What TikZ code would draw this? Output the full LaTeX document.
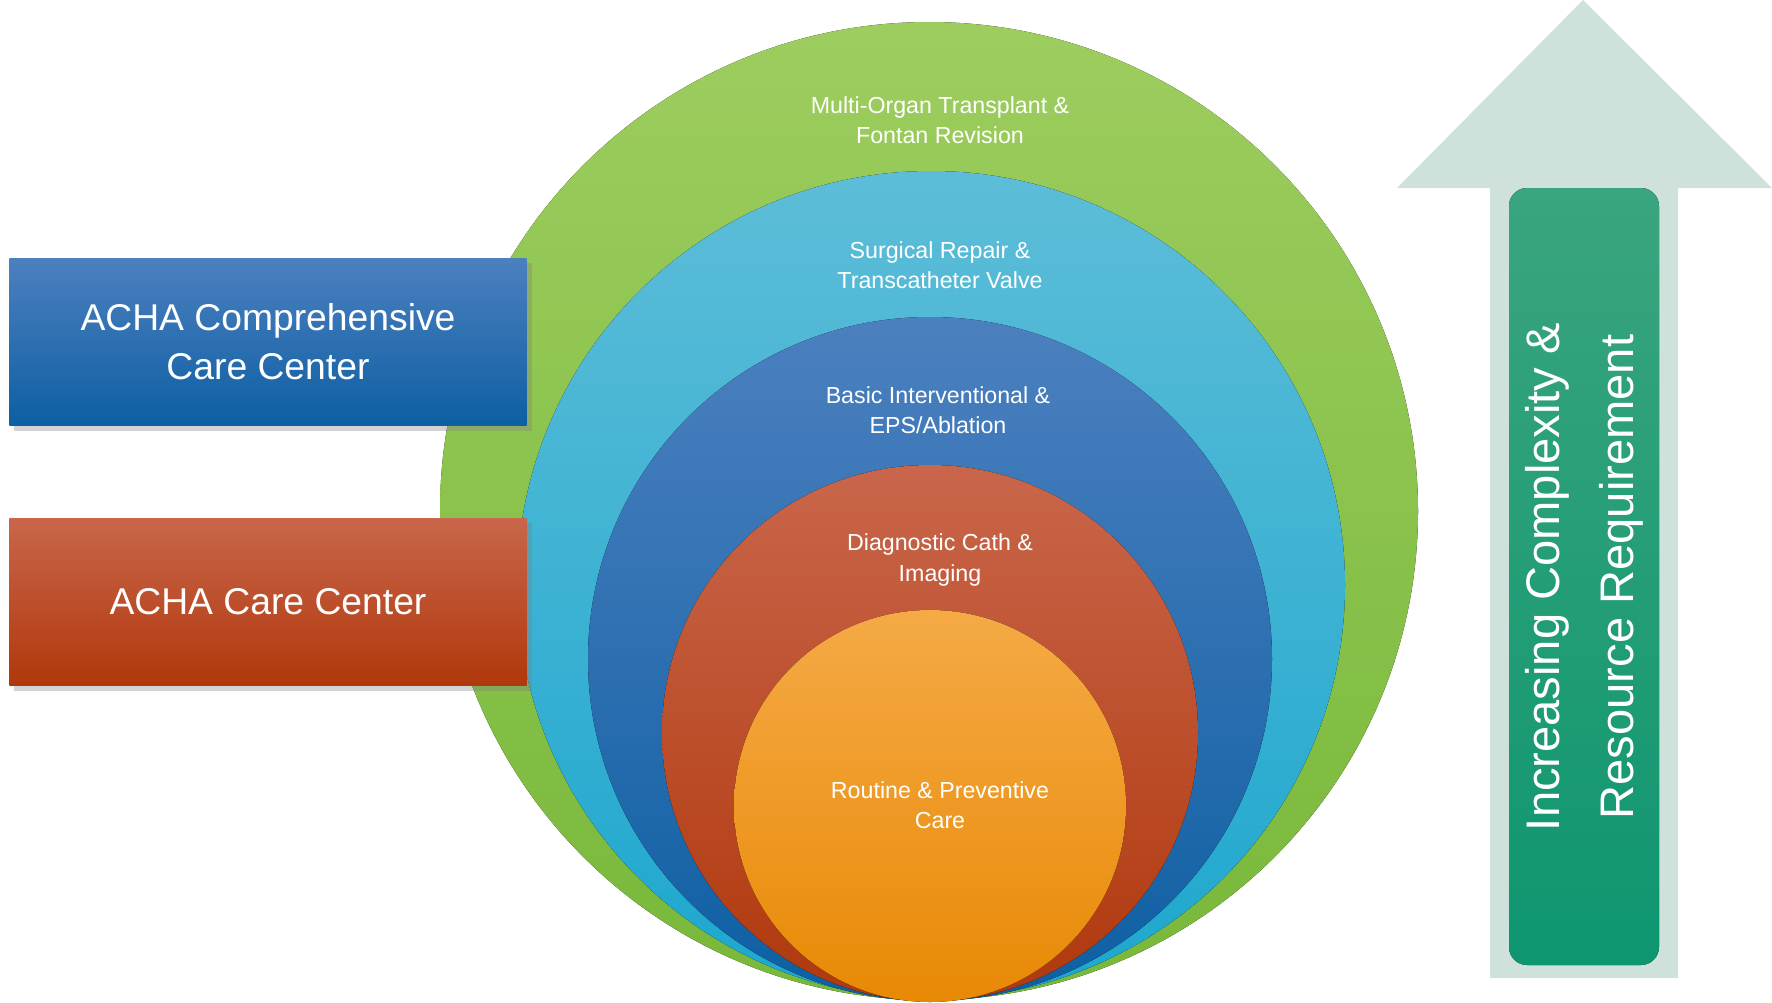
\documentclass[tikz,border=0pt]{standalone}
\usepackage{fontspec}
\setmainfont{Liberation Sans}
\usetikzlibrary{shadows}
\definecolor{grnT}{HTML}{9DCD5F}\definecolor{grnB}{HTML}{78B83A}
\definecolor{cyaT}{HTML}{5DBDD8}\definecolor{cyaB}{HTML}{1DA7CE}
\definecolor{bluT}{HTML}{4C80BF}\definecolor{bluB}{HTML}{0D5FA3}
\definecolor{redT}{HTML}{C9664B}\definecolor{redB}{HTML}{B0380C}
\definecolor{orgT}{HTML}{F5AA46}\definecolor{orgB}{HTML}{E88905}
\definecolor{arrowbg}{HTML}{CEE1DA}
\definecolor{barT}{HTML}{3AA57E}\definecolor{barB}{HTML}{0E9670}
\begin{document}
\begin{tikzpicture}[x=0.01cm,y=-0.01cm,
  lbl/.style={text=white,align=center,font=\fontsize{6.6}{8.6}\selectfont},
  box/.style={draw=none,minimum width=5.17cm,minimum height=1.67cm,text=white,align=center,
    font=\fontsize{10.6}{14}\selectfont,drop shadow={shadow xshift=0.5mm,shadow yshift=-0.5mm,opacity=0.35}},
  shadefill/.style 2 args={top color=#1,bottom color=#2,draw=none}]
\useasboundingbox (0,0) rectangle (1772,1002);
% nested circles
\fill[shadefill={grnT}{grnB}] (929,511) circle (489);
\fill[shadefill={cyaT}{cyaB}] (931,585) circle (414);
\fill[shadefill={bluT}{bluB}] (930,659) circle (342);
\fill[shadefill={redT}{redB}] (930,733) circle (268);
\fill[shadefill={orgT}{orgB}] (930,806) circle (196);
\node[lbl] (l1) at (940,120) {Multi-Organ Transplant \&\\Fontan Revision};
\node[lbl] (l2) at (940,265) {Surgical Repair \&\\Transcatheter Valve};
\node[lbl] (l3) at (938,410) {Basic Interventional \&\\EPS/Ablation};
\node[lbl] (l4) at (940,560) {Diagnostic Cath \&\\Imaging};
\node[lbl] (l5) at (940,805) {Routine \& Preventive\\Care};
% boxes
\node[box,shadefill={bluT}{bluB}] (comp) at (268,342) {ACHA Comprehensive\\Care Center};
\node[box,shadefill={redT}{redB}] (care) at (268,602) {ACHA Care Center};
% arrow
\fill[arrowbg] (1583,0) -- (1772,188) -- (1678,188) -- (1678,978) -- (1490,978) -- (1490,188) -- (1397,188) -- cycle;
\fill[shadefill={barT}{barB},rounded corners=1.8mm] (1509,188) rectangle (1659,965);
\node[rotate=90,text=white,align=center,font=\fontsize{13.4}{21}\selectfont] (arr) at (1584,577)
  {Increasing Complexity \&\\Resource Requirement};
\end{tikzpicture}
\end{document}
